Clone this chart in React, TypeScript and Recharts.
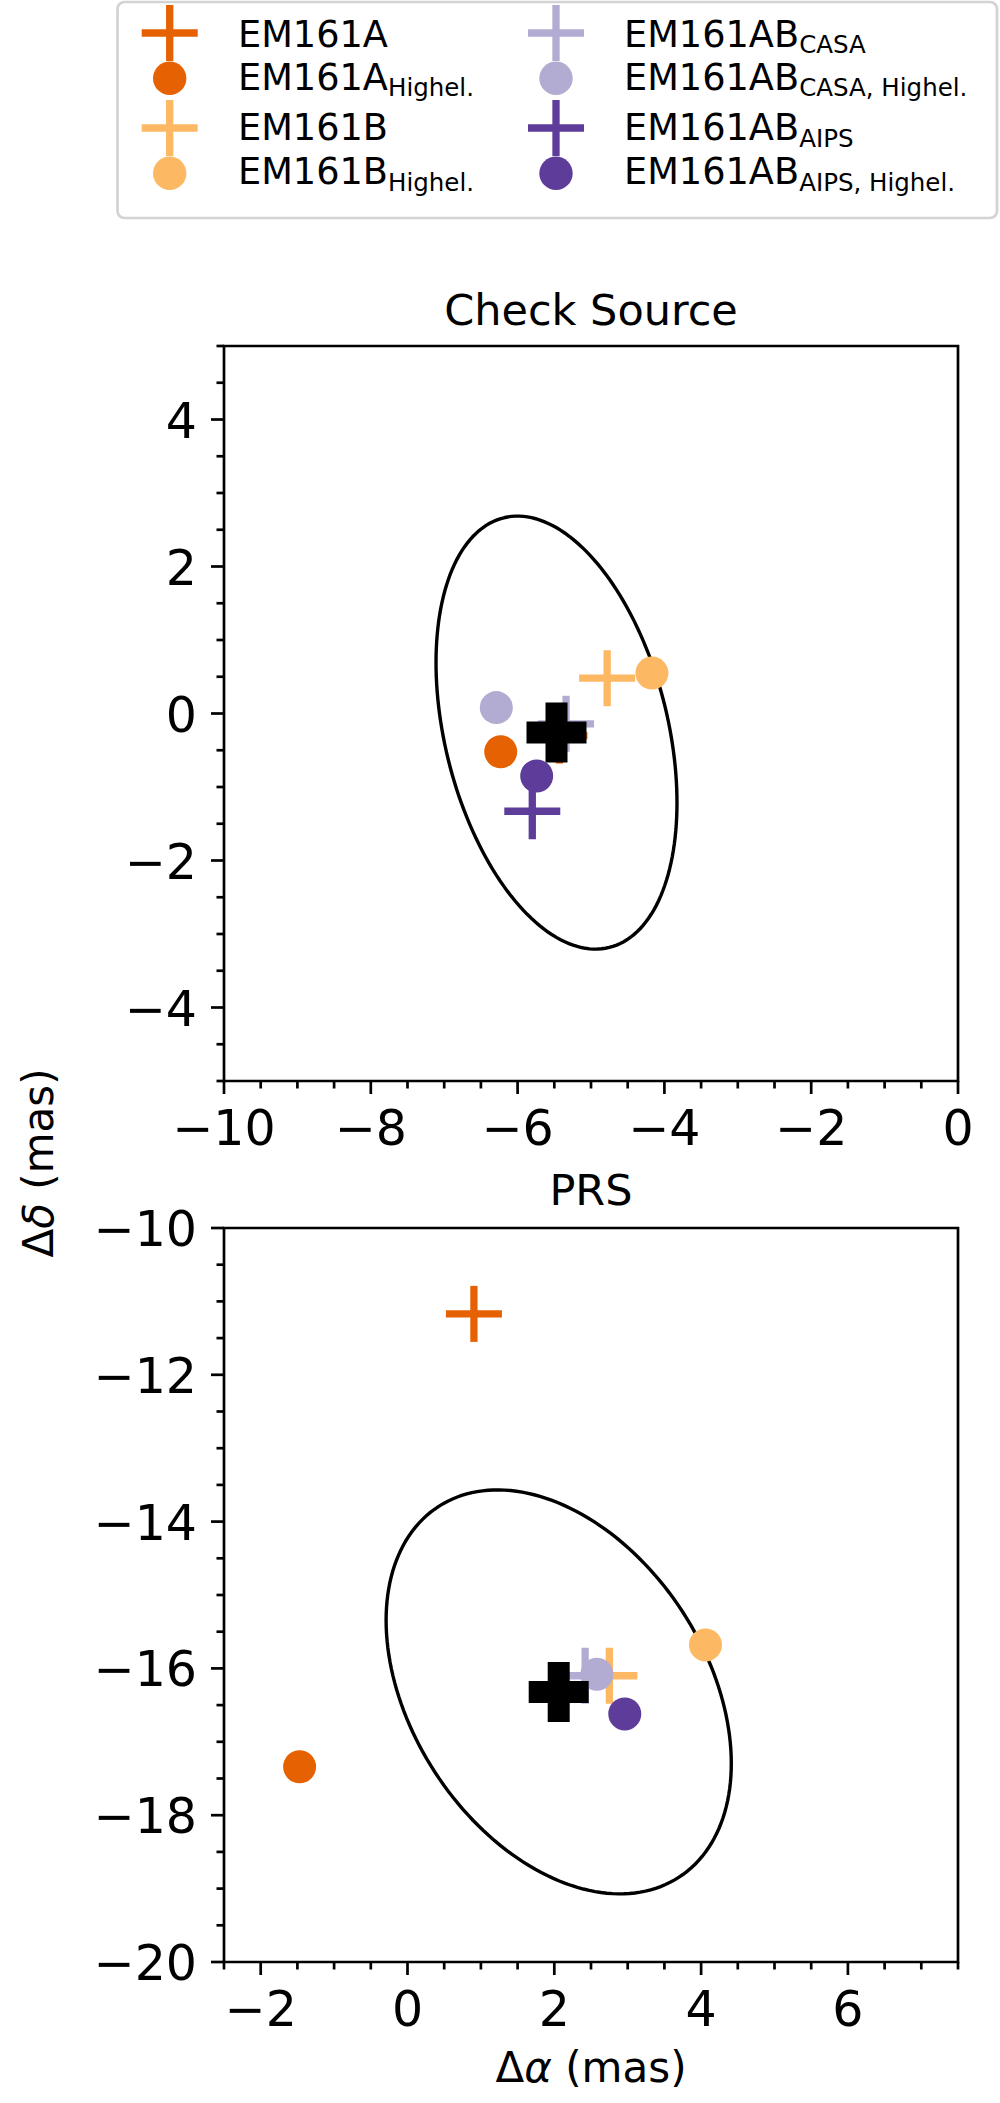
import React from 'react';
import { ScatterChart, Scatter, XAxis, YAxis, ReferenceArea } from 'recharts';

// series order: EM161A, EM161B, EM161AB (CASA), EM161AB (AIPS)
const seriesColors = ['#e66101', '#fdb863', '#b2abd2', '#5e3c99'];
const legendMain = ['EM161A', 'EM161A', 'EM161B', 'EM161B', 'EM161AB', 'EM161AB', 'EM161AB', 'EM161AB'];
const legendSub = ['', 'Highel.', '', 'Highel.', 'CASA', 'CASA, Highel.', 'AIPS', 'AIPS, Highel.'];

// Check Source panel
const checkCrossX = [-5.43, -4.78, -5.34, -5.8];
const checkCrossY = [-0.3, 0.48, -0.14, -1.33];
const checkHighelX = [-6.23, -4.17, -6.29, -5.74];
const checkHighelY = [-0.52, 0.55, 0.08, -0.85];
const checkMean = [-5.47, -0.26];
const checkEllipse = [3.01, 1.52, 103.8]; // semi-major, semi-minor, angle (deg)
const checkXDomain = [-10, 0];
const checkYDomain = [-5, 5];
const checkXTicks = [-10, -8, -6, -4, -2, 0];
const checkYTicks = [-4, -2, 0, 2, 4];

// PRS panel
const prsCrossX = [0.905, 2.75, 2.42, 2.06];
const prsCrossY = [-11.17, -16.1, -16.1, -16.32];
const prsHighelX = [-1.47, 4.06, 2.58, 2.96];
const prsHighelY = [-17.34, -15.68, -16.08, -16.62];
const prsMean = [2.06, -16.32];
const prsEllipse = [3.01, 2.01, 123.0];
const prsXDomain = [-2.5, 7.5];
const prsYDomain = [-20, -10];
const prsXTicks = [-2, 0, 2, 4, 6];
const prsYTicks = [-20, -18, -16, -14, -12, -10];

const FONT = 'DejaVu Sans';
const LW = 2.7;

// major ticks plus minor ticks every 0.5
const allTicks = (d: number[]) => {
  const out: number[] = [];
  for (let v = d[0]; v <= d[1] + 1e-9; v += 0.5) out.push(Math.round(v * 10) / 10);
  return out;
};

const ellipsePoints = (c: number[], e: number[]) => {
  const [a, b, ang] = e;
  const th = (ang * Math.PI) / 180;
  const pts = [];
  for (let i = 0; i <= 180; i++) {
    const t = (i / 180) * 2 * Math.PI;
    const u = a * Math.cos(t);
    const v = b * Math.sin(t);
    pts.push({ x: c[0] + u * Math.cos(th) - v * Math.sin(th), y: c[1] + u * Math.sin(th) + v * Math.cos(th) });
  }
  return pts;
};

const fmt = (v: number) => (v < 0 ? '\u2212' + Math.abs(v) : String(v));

const makeXTick = (majors: number[]) => (props: any) => {
  const { x, y, payload } = props;
  const major = majors.includes(payload.value);
  return (
    <g>
      <line x1={x} x2={x} y1={y} y2={y + (major ? 13 : 7.5)} stroke="#000" strokeWidth={LW} />
      {major && (
        <text x={x} y={y + 64} textAnchor="middle" fontFamily={FONT} fontSize={49} fill="#000">
          {fmt(payload.value)}
        </text>
      )}
    </g>
  );
};

const makeYTick = (majors: number[]) => (props: any) => {
  const { x, y, payload } = props;
  const major = majors.includes(payload.value);
  return (
    <g>
      <line x1={x - (major ? 13 : 7.5)} x2={x} y1={y} y2={y} stroke="#000" strokeWidth={LW} />
      {major && (
        <text x={x - 27} y={y + 18} textAnchor="end" fontFamily={FONT} fontSize={49} fill="#000">
          {fmt(payload.value)}
        </text>
      )}
    </g>
  );
};

const PlusMark = (color: string) => (props: any) => {
  const { cx, cy } = props;
  return (
    <g>
      <line x1={cx - 28} x2={cx + 28} y1={cy} y2={cy} stroke={color} strokeWidth={7.3} />
      <line x1={cx} x2={cx} y1={cy - 28} y2={cy + 28} stroke={color} strokeWidth={7.3} />
    </g>
  );
};

const DotMark = (color: string) => (props: any) => {
  const { cx, cy } = props;
  return <circle cx={cx} cy={cy} r={16.5} fill={color} />;
};

const MeanMark = (props: any) => {
  const { cx, cy } = props;
  const L = 30;
  const w = 11;
  const d = `M${cx - w},${cy - L}H${cx + w}V${cy - w}H${cx + L}V${cy + w}H${cx + w}V${cy + L}H${cx - w}V${cy + w}H${cx - L}V${cy - w}H${cx - w}Z`;
  return <path d={d} fill="#000" />;
};

const Empty = () => <g />;

type PanelProps = {
  height: number;
  margin: { top: number; right: number; bottom: number; left: number };
  xDomain: number[];
  yDomain: number[];
  xTicks: number[];
  yTicks: number[];
  crossX: number[];
  crossY: number[];
  highelX: number[];
  highelY: number[];
  mean: number[];
  ellipse: number[];
};

const Panel = (p: PanelProps) => {
  const series: React.ReactNode[] = [];
  seriesColors.forEach((color, i) => {
    series.push(
      <Scatter
        key={`c${i}`}
        data={[{ x: p.crossX[i], y: p.crossY[i] }]}
        shape={PlusMark(color)}
        isAnimationActive={false}
      />
    );
    series.push(
      <Scatter
        key={`h${i}`}
        data={[{ x: p.highelX[i], y: p.highelY[i] }]}
        shape={DotMark(color)}
        isAnimationActive={false}
      />
    );
  });
  return (
    <ScatterChart width={1000} height={p.height} margin={p.margin}>
      <XAxis
        type="number"
        dataKey="x"
        domain={p.xDomain}
        allowDataOverflow
        ticks={allTicks(p.xDomain)}
        interval={0}
        height={1}
        tickSize={0}
        tickMargin={0}
        axisLine={false}
        tickLine={false}
        tick={makeXTick(p.xTicks)}
      />
      <YAxis
        type="number"
        dataKey="y"
        domain={p.yDomain}
        allowDataOverflow
        ticks={allTicks(p.yDomain)}
        interval={0}
        width={1}
        tickSize={0}
        tickMargin={0}
        axisLine={false}
        tickLine={false}
        tick={makeYTick(p.yTicks)}
      />
      <ReferenceArea
        x1={p.xDomain[0]}
        x2={p.xDomain[1]}
        y1={p.yDomain[0]}
        y2={p.yDomain[1]}
        fill="none"
        fillOpacity={0}
        stroke="#000"
        strokeWidth={LW}
        strokeOpacity={1}
      />
      <Scatter
        data={ellipsePoints(p.mean, p.ellipse)}
        line={{ stroke: '#000', strokeWidth: 3.4 }}
        shape={Empty}
        isAnimationActive={false}
      />
      {series}
      <Scatter data={[{ x: p.mean[0], y: p.mean[1] }]} shape={MeanMark} isAnimationActive={false} />
    </ScatterChart>
  );
};

const LegendBox = () => {
  const colX = [169.7, 556];
  const textX = [238, 624];
  const handleY = [33, 78.3, 128, 173.3];
  const baseY = [46.7, 89.5, 139.8, 184];
  const items: React.ReactNode[] = [];
  for (let k = 0; k < 8; k++) {
    const col = Math.floor(k / 4);
    const row = k % 4;
    const color = seriesColors[col * 2 + Math.floor(row / 2)];
    const hx = colX[col];
    const hy = handleY[row];
    if (row % 2 === 0) {
      items.push(
        <g key={`m${k}`}>
          <line x1={hx - 28} x2={hx + 28} y1={hy} y2={hy} stroke={color} strokeWidth={7.3} />
          <line x1={hx} x2={hx} y1={hy - 28} y2={hy + 28} stroke={color} strokeWidth={7.3} />
        </g>
      );
    } else {
      items.push(<circle key={`m${k}`} cx={hx} cy={hy} r={16.7} fill={color} />);
    }
    items.push(
      <text key={`t${k}`} x={textX[col]} y={baseY[row]} fontFamily={FONT} fontSize={36.7} fill="#000">
        {legendMain[k]}
        {legendSub[k] ? (
          <tspan dy={6.7} fontSize={24.5}>
            {legendSub[k]}
          </tspan>
        ) : null}
      </text>
    );
  }
  return (
    <g>
      <rect x={117.5} y={2} width={879.5} height={216} rx={7} fill="#fff" stroke="#d3d3d3" strokeWidth={2.7} />
      {items}
    </g>
  );
};

export default function App() {
  return (
    <div style={{ position: 'absolute', left: 0, top: 0, width: 1000, height: 2103, background: '#fff' }}>
      <div style={{ position: 'absolute', left: 0, top: 0 }}>
        <Panel
          height={1160}
          margin={{ top: 346, right: 42, bottom: 78, left: 223 }}
          xDomain={checkXDomain}
          yDomain={checkYDomain}
          xTicks={checkXTicks}
          yTicks={checkYTicks}
          crossX={checkCrossX}
          crossY={checkCrossY}
          highelX={checkHighelX}
          highelY={checkHighelY}
          mean={checkMean}
          ellipse={checkEllipse}
        />
      </div>
      <div style={{ position: 'absolute', left: 0, top: 1160 }}>
        <Panel
          height={943}
          margin={{ top: 68, right: 42, bottom: 140, left: 223 }}
          xDomain={prsXDomain}
          yDomain={prsYDomain}
          xTicks={prsXTicks}
          yTicks={prsYTicks}
          crossX={prsCrossX}
          crossY={prsCrossY}
          highelX={prsHighelX}
          highelY={prsHighelY}
          mean={prsMean}
          ellipse={prsEllipse}
        />
      </div>
      <svg
        width={1000}
        height={2103}
        style={{ position: 'absolute', left: 0, top: 0, pointerEvents: 'none' }}
      >
        <LegendBox />
        <text x={591} y={325} textAnchor="middle" fontFamily={FONT} fontSize={43} fill="#000">
          Check Source
        </text>
        <text x={591} y={1205} textAnchor="middle" fontFamily={FONT} fontSize={43} fill="#000">
          PRS
        </text>
        <text x={591} y={2082} textAnchor="middle" fontFamily={FONT} fontSize={42} fill="#000">
          Δ<tspan fontStyle="italic">α</tspan> (mas)
        </text>
        <text
          x={53}
          y={1163}
          transform="rotate(-90, 53, 1163)"
          textAnchor="middle"
          fontFamily={FONT}
          fontSize={42}
          fill="#000"
        >
          Δ<tspan fontStyle="italic">δ</tspan> (mas)
        </text>
      </svg>
    </div>
  );
}
